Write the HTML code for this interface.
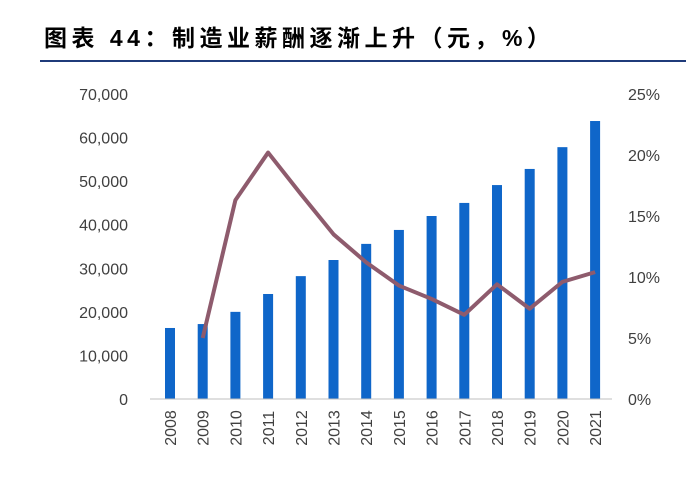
<!DOCTYPE html>
<html><head><meta charset="utf-8"><style>
body{margin:0;background:#fff;width:686px;height:476px;overflow:hidden;font-family:"Liberation Sans","Noto Sans CJK SC",sans-serif;}
</style></head><body>
<svg width="686" height="476">
<text x="44" y="46" font-size="23" letter-spacing="4.5" font-weight="bold" fill="#000" font-family="Liberation Sans, Noto Sans CJK SC, sans-serif">图表 44：制造业薪酬逐渐上升（元，%）</text>
<line x1="40" y1="61" x2="686" y2="61" stroke="#1f3b7a" stroke-width="2"/>
<g id="g"></g>
</svg>
<script>
const years=["2008","2009","2010","2011","2012","2013","2014","2015","2016","2017","2018","2019","2020","2021"];
const wages=[16300,17200,20000,24100,28200,31900,35600,38800,42000,45000,49100,52800,57800,63800];
const growth=[null,5.0,16.3,20.2,16.8,13.5,11.2,9.3,8.2,6.9,9.4,7.4,9.6,10.4];
const leftTicks=[0,10000,20000,30000,40000,50000,60000,70000];
const rightTicks=[0,5,10,15,20,25];
const ns="http://www.w3.org/2000/svg",g=document.getElementById('g');
const y0=399,yTop=94;
const yL=v=>y0-(v/70000)*(y0-yTop);
const yR=v=>y0-(v/25)*(y0-yTop);
const xC=i=>170+i*32.7;
function mk(t,a,txt){const e=document.createElementNS(ns,t);for(const k in a)e.setAttribute(k,a[k]);if(txt!=null)e.textContent=txt;g.appendChild(e);return e;}
leftTicks.forEach(v=>{const e=mk('text',{x:128,y:yL(v)+6,'text-anchor':'end','font-size':16,fill:'#404040'},v.toLocaleString('en-US'));

});
rightTicks.forEach(v=>{const e=mk('text',{x:628,y:yR(v)+6,'font-size':16,fill:'#404040'},v+'%');

});
wages.forEach((v,i)=>{const e=mk('rect',{x:xC(i)-5,y:yL(v),width:10,height:y0-yL(v),fill:'#0f66c9'});

});
const ax=mk('line',{x1:150,y1:y0,x2:612,y2:y0,stroke:'#bfbfbf','stroke-width':1});


let d='';growth.forEach((v,i)=>{if(v==null)return;d+=(d?'L':'M')+xC(i)+' '+yR(v);});
const ln=mk('path',{d:d,fill:'none',stroke:'#8e5b6d','stroke-width':4,'stroke-linejoin':'round'});


years.forEach((y,i)=>{const x=xC(i)+6;const e=mk('text',{x:x,y:428,'font-size':16,fill:'#404040',transform:`rotate(-90 ${x} 428)`,'text-anchor':'middle'},y);

});
</script>
</body></html>
